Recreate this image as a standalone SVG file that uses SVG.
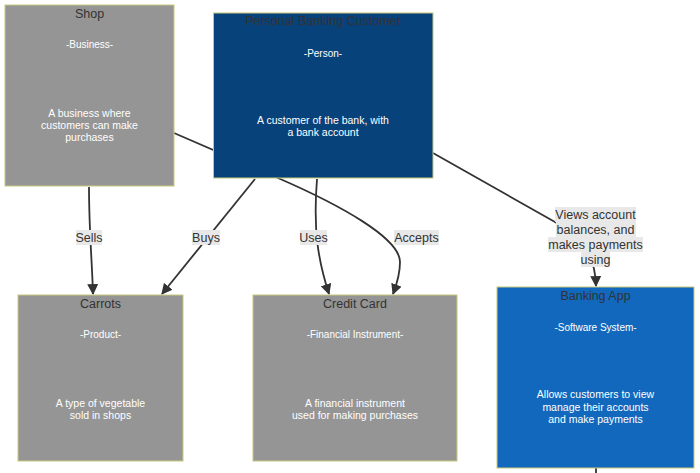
<svg xmlns="http://www.w3.org/2000/svg" width="700" height="473" viewBox="0 0 700 473">
<style>
.box{stroke:#c8c87e;stroke-width:1}
.gray{fill:#959595}
.person{fill:#08427b}
.sys{fill:#1168bd}
.title{font-family:"Liberation Sans",Arial,sans-serif;font-size:12.5px;fill:#333;text-anchor:middle}
.type{font-family:"Liberation Sans",Arial,sans-serif;font-size:10px;fill:#fff;text-anchor:middle}
.desc{font-family:"Liberation Sans",Arial,sans-serif;font-size:10.5px;fill:#fff;text-anchor:middle}
.edge{fill:none;stroke:#333;stroke-width:1.8}
.lbg{fill:#e8e8e8}
.lbl{font-family:"Liberation Sans",Arial,sans-serif;font-size:12.5px;fill:#333;text-anchor:middle}
</style>
<defs>
<marker id="arrow" viewBox="0 0 10 10" refX="9" refY="5" markerUnits="userSpaceOnUse" markerWidth="11" markerHeight="11" orient="auto">
<path d="M0,0 L10,5 L0,10 z" fill="#333"/>
</marker>
</defs>
<rect width="700" height="473" fill="#fff"/>
<g id="connectors">
<path class="edge" d="M89,187 C89,230 92,260 93,294" marker-end="url(#arrow)"/>
<path class="edge" d="M255,179 L162,294" marker-end="url(#arrow)"/>
<path class="edge" d="M317,179 C313,230 318,260 329,294" marker-end="url(#arrow)"/>
<path class="edge" d="M174,133 L278,178 C340,205 400,238 400,262 C400,276 396,286 393,294" marker-end="url(#arrow)"/>
<path class="edge" d="M433,153 L555,222 C580,236 595,252 596,286" marker-end="url(#arrow)"/>
<path class="edge" d="M596,468 L596,473"/>
<rect class="lbg" x="76" y="230" width="26" height="15"/>
<text class="lbl" x="89" y="242">Sells</text>
<rect class="lbg" x="192" y="230" width="28" height="15"/>
<text class="lbl" x="206" y="242">Buys</text>
<rect class="lbg" x="300" y="230" width="27" height="15"/>
<text class="lbl" x="313.5" y="242">Uses</text>
<rect class="lbg" x="394" y="230" width="45" height="15"/>
<text class="lbl" x="416.5" y="242">Accepts</text>
<rect class="lbg" x="555" y="207" width="81" height="15"/>
<rect class="lbg" x="556" y="222" width="80" height="15"/>
<rect class="lbg" x="548" y="237" width="95" height="15"/>
<rect class="lbg" x="581" y="252" width="29" height="15"/>
<text class="lbl" x="595.5" y="219">Views account</text>
<text class="lbl" x="595.5" y="234">balances, and</text>
<text class="lbl" x="595.5" y="249">makes payments</text>
<text class="lbl" x="595.5" y="264">using</text>
</g>
<g id="shop">
<rect class="box gray" x="5" y="5" width="169" height="181"/>
<text class="title" x="89.5" y="18">Shop</text>
<text class="type" x="89.5" y="48">-Business-</text>
<text class="desc" x="89.5" y="117">A business where</text>
<text class="desc" x="89.5" y="129">customers can make</text>
<text class="desc" x="89.5" y="141">purchases</text>
</g>
<g id="customer">
<rect class="box person" x="213.5" y="13" width="219.5" height="165"/>
<text class="title" x="323" y="24.5">Personal Banking Customer</text>
<text class="type" x="323" y="57">-Person-</text>
<text class="desc" x="323" y="124">A customer of the bank, with</text>
<text class="desc" x="323" y="136">a bank account</text>
</g>
<g id="carrots">
<rect class="box gray" x="18" y="295" width="165" height="166"/>
<text class="title" x="100.5" y="307.5">Carrots</text>
<text class="type" x="100.5" y="338">-Product-</text>
<text class="desc" x="100.5" y="407">A type of vegetable</text>
<text class="desc" x="100.5" y="419">sold in shops</text>
</g>
<g id="creditcard">
<rect class="box gray" x="253" y="295" width="204" height="166"/>
<text class="title" x="355" y="307.5">Credit Card</text>
<text class="type" x="355" y="338">-Financial Instrument-</text>
<text class="desc" x="355" y="407">A financial instrument</text>
<text class="desc" x="355" y="419">used for making purchases</text>
</g>
<g id="bankingapp">
<rect class="box sys" x="497" y="287" width="197" height="181"/>
<text class="title" x="595.5" y="299.5">Banking App</text>
<text class="type" x="595.5" y="331">-Software System-</text>
<text class="desc" x="595.5" y="398">Allows customers to view</text>
<text class="desc" x="595.5" y="410.5">manage their accounts</text>
<text class="desc" x="595.5" y="423">and make payments</text>
</g>
</svg>
